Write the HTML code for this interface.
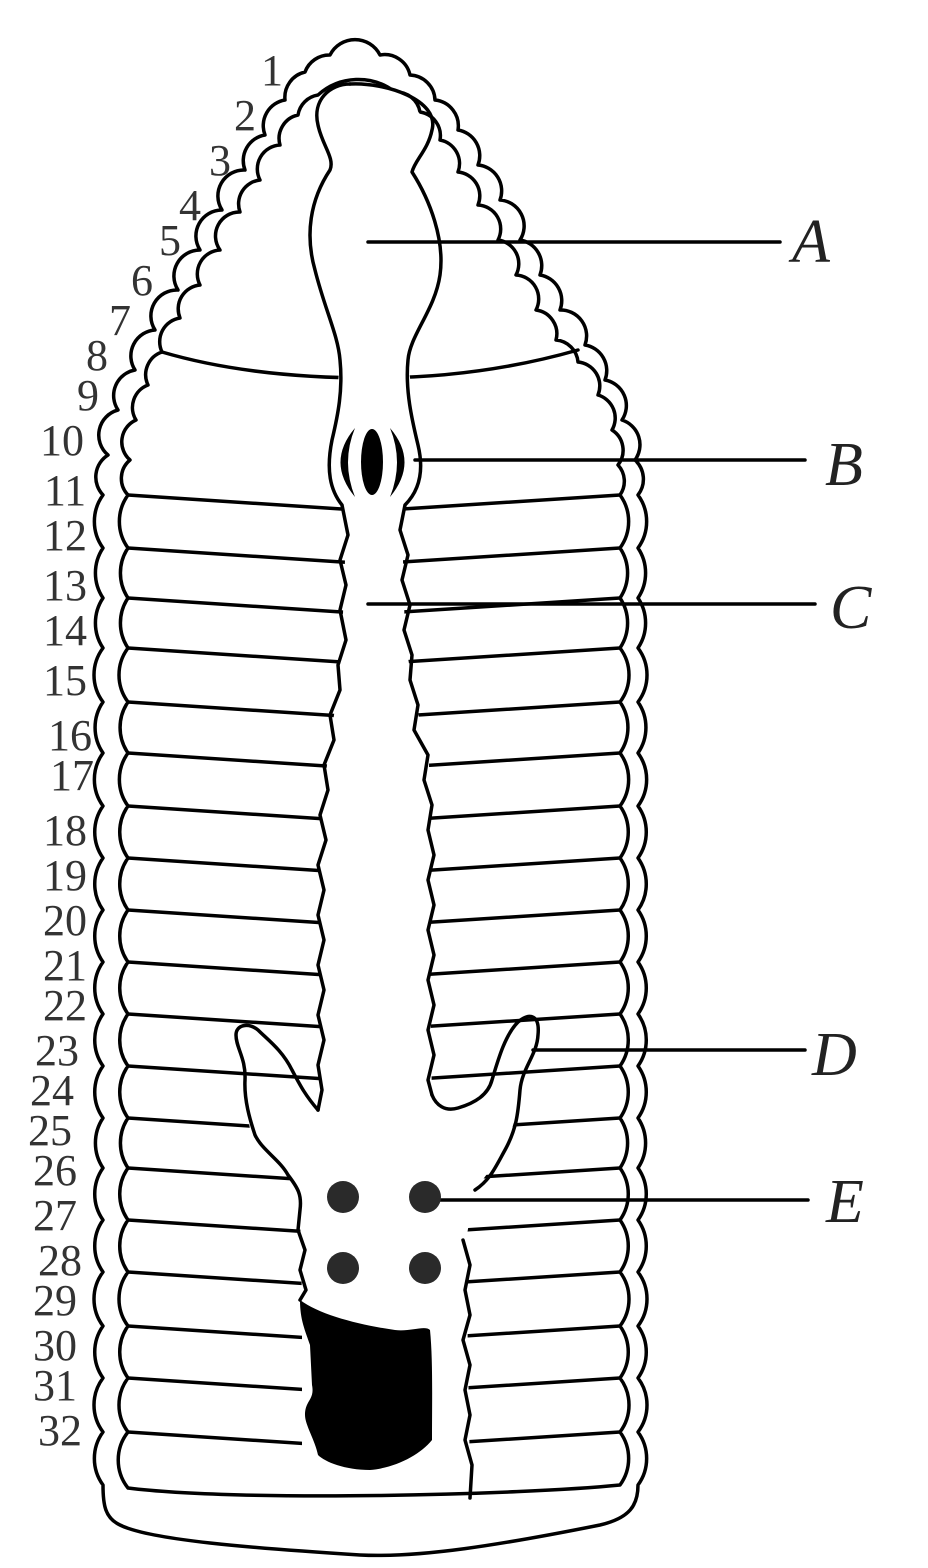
<!DOCTYPE html>
<html><head><meta charset="utf-8"><style>
html,body{margin:0;padding:0;background:#fff;}
svg{display:block;}
.n{font-family:"Liberation Serif",serif;font-size:44px;fill:#333;text-anchor:middle;}
.l{font-family:"Liberation Serif",serif;font-size:62px;font-style:italic;fill:#222;}
</style></head><body>
<svg width="928" height="1568" viewBox="0 0 928 1568" xmlns="http://www.w3.org/2000/svg">
<g fill="none" stroke="#000" stroke-width="3.5" stroke-linejoin="round" stroke-linecap="round">
<path d="M330,55 A28,28 0 0 1 380,55 A26,26 0 0 1 410,75 A26,26 0 0 1 435,100 A26,26 0 0 1 458,130 A26,26 0 0 1 478,165 A26,26 0 0 1 500,200 A26,26 0 0 1 520,240 A26,26 0 0 1 540,275 A26,26 0 0 1 560,310 A26,26 0 0 1 585,345 A26,26 0 0 1 605,380 A26,26 0 0 1 622,420 A26,26 0 0 1 635,460 A26,26 0 0 1 638,495
A45,45 0 0 1 638,548 A45,45 0 0 1 638,598 A45,45 0 0 1 638,648 A45,45 0 0 1 638,702 A45,45 0 0 1 638,753 A45,45 0 0 1 638,806 A45,45 0 0 1 638,858 A45,45 0 0 1 638,910 A45,45 0 0 1 638,962 A45,45 0 0 1 638,1014 A45,45 0 0 1 638,1066 A45,45 0 0 1 638,1118 A45,45 0 0 1 638,1168 A45,45 0 0 1 638,1220 A45,45 0 0 1 638,1272 A45,45 0 0 1 638,1326 A45,45 0 0 1 638,1378 A45,45 0 0 1 638,1432 A45,45 0 0 1 638,1485
C638,1505 630,1518 600,1525 C500,1545 420,1558 360,1555 C250,1548 150,1540 120,1525 C105,1518 103,1505 103,1485
A45,45 0 0 1 103,1432 A45,45 0 0 1 103,1378 A45,45 0 0 1 103,1326 A45,45 0 0 1 103,1272 A45,45 0 0 1 103,1220 A45,45 0 0 1 103,1168 A45,45 0 0 1 103,1118 A45,45 0 0 1 103,1066 A45,45 0 0 1 103,1014 A45,45 0 0 1 103,962 A45,45 0 0 1 103,910 A45,45 0 0 1 103,858 A45,45 0 0 1 103,806 A45,45 0 0 1 103,753 A45,45 0 0 1 103,702 A45,45 0 0 1 103,648 A45,45 0 0 1 103,598 A45,45 0 0 1 103,548 A45,45 0 0 1 103,495
A26,26 0 0 1 108,455 A26,26 0 0 1 118,410 A26,26 0 0 1 135,370 A26,26 0 0 1 155,330 A26,26 0 0 1 178,290 A26,26 0 0 1 200,250 A26,26 0 0 1 222,210 A26,26 0 0 1 245,170 A26,26 0 0 1 265,135 A26,26 0 0 1 285,100 A26,26 0 0 1 305,72 A26,26 0 0 1 330,55 Z"/>
<path d="M318,95 A60,60 0 0 1 395,92 A24,24 0 0 1 420,112 A24,24 0 0 1 440,140 A24,24 0 0 1 458,172 A24,24 0 0 1 478,205 A24,24 0 0 1 498,240 A24,24 0 0 1 516,275 A24,24 0 0 1 536,310 A24,24 0 0 1 556,340 A24,24 0 0 1 578,362 A24,24 0 0 1 598,395 A24,24 0 0 1 612,430 A24,24 0 0 1 618,465 A24,24 0 0 1 620,495
A45,45 0 0 1 620,548 A45,45 0 0 1 620,598 A45,45 0 0 1 620,648 A45,45 0 0 1 620,702 A45,45 0 0 1 620,753 A45,45 0 0 1 620,806 A45,45 0 0 1 620,858 A45,45 0 0 1 620,910 A45,45 0 0 1 620,962 A45,45 0 0 1 620,1014 A45,45 0 0 1 620,1066 A45,45 0 0 1 620,1118 A45,45 0 0 1 620,1168 A45,45 0 0 1 620,1220 A45,45 0 0 1 620,1272 A45,45 0 0 1 620,1326 A45,45 0 0 1 620,1378 A45,45 0 0 1 620,1432 A45,45 0 0 1 620,1485
C520,1495 240,1502 128,1488
A45,45 0 0 1 128,1432 A45,45 0 0 1 128,1378 A45,45 0 0 1 128,1326 A45,45 0 0 1 128,1272 A45,45 0 0 1 128,1220 A45,45 0 0 1 128,1168 A45,45 0 0 1 128,1118 A45,45 0 0 1 128,1066 A45,45 0 0 1 128,1014 A45,45 0 0 1 128,962 A45,45 0 0 1 128,910 A45,45 0 0 1 128,858 A45,45 0 0 1 128,806 A45,45 0 0 1 128,753 A45,45 0 0 1 128,702 A45,45 0 0 1 128,648 A45,45 0 0 1 128,598 A45,45 0 0 1 128,548 A45,45 0 0 1 128,495
A24,24 0 0 1 130,460 A24,24 0 0 1 136,420 A24,24 0 0 1 148,385 A24,24 0 0 1 162,352 A24,24 0 0 1 180,318 A24,24 0 0 1 200,285 A24,24 0 0 1 220,250 A24,24 0 0 1 240,212 A24,24 0 0 1 260,180 A24,24 0 0 1 280,145 A24,24 0 0 1 298,115 A24,24 0 0 1 318,95 Z"/>
<path d="M162,352 Q250,378 372,378 M372,378 Q480,378 578,350
M128,495 Q250,503 372,511 M128,548 Q250,556 372,564 M128,598 Q250,606 372,614 M128,648 Q250,656 372,664 M128,702 Q250,710 372,718 M128,753 Q250,761 372,769 M128,806 Q250,814 372,822 M128,858 Q250,866 372,874 M128,910 Q250,918 372,926 M128,962 Q250,970 372,978 M128,1014 Q250,1022 372,1030 M128,1066 Q250,1074 372,1082 M128,1118 Q250,1126 372,1134 M128,1168 Q250,1176 372,1184 M128,1220 Q250,1228 372,1236 M128,1272 Q250,1280 372,1288 M128,1326 Q250,1334 372,1342 M128,1378 Q250,1386 372,1394 M128,1432 Q250,1440 372,1448
M372,511 Q500,503 620,495 M372,564 Q500,556 620,548 M372,614 Q500,606 620,598 M372,664 Q500,656 620,648 M372,718 Q500,710 620,702 M372,769 Q500,761 620,753 M372,822 Q500,814 620,806 M372,874 Q500,866 620,858 M372,926 Q500,918 620,910 M372,978 Q500,970 620,962 M372,1030 Q500,1022 620,1014 M372,1082 Q500,1074 620,1066 M372,1134 Q500,1126 620,1118 M372,1184 Q500,1176 620,1168 M372,1236 Q500,1228 620,1220 M372,1288 Q500,1280 620,1272 M372,1342 Q500,1334 620,1326 M372,1394 Q500,1386 620,1378 M372,1448 Q500,1440 620,1432"/>
</g>
<polygon fill="#fff" points="350,84 318,100 318,125 330,170 312,220 315,270 338,340 340,360 335,420 330,460 342,505 345,560 342,640 338,690 330,740 324,790 320,840 320,1110 246,1100 250,1130 290,1175 300,1210 302,1300 302,1478 470,1478 466,1240 475,1190 505,1150 518,1110 520,1090 432,1095 431,1055 430,900 429,760 416,705 405,640 403,560 405,505 420,470 417,440 408,360 440,275 412,172 432,130 400,88"/>
<g fill="none" stroke="#000" stroke-width="3.5" stroke-linejoin="round" stroke-linecap="round">
<path d="M350,84 C330,84 312,100 318,125 C322,145 335,158 330,170 C310,200 305,235 315,270 C325,310 338,335 340,360 C343,390 338,415 332,440 C326,470 330,490 342,505 L348,535 L340,560 L346,585 L340,610 L346,640 L338,665 L340,690 L330,715 L334,740 L324,765 L328,790 L320,815 L326,840 L318,865 L324,890 L318,915 L324,940 L318,965 L324,990 L318,1015 L324,1040 L318,1065 L322,1090 L318,1110"/>
<path d="M350,84 C385,82 440,100 432,130 C428,150 415,160 412,172 C430,200 445,240 440,275 C435,310 410,335 408,360 C405,390 412,420 418,445 C424,470 420,490 405,505 L400,530 L408,555 L402,580 L410,605 L404,630 L412,655 L410,680 L418,705 L414,730 L428,755 L424,780 L432,805 L428,830 L434,855 L428,880 L434,905 L428,930 L434,955 L428,980 L434,1005 L428,1030 L434,1055 L428,1080 L432,1095"/>
<path d="M318,1110 C305,1095 300,1085 292,1070 C282,1050 268,1040 258,1030 C248,1022 236,1025 236,1035 C236,1048 246,1058 245,1080 C244,1100 250,1120 255,1135 C262,1150 280,1160 288,1175 C298,1188 302,1195 300,1210 L298,1230 L305,1250 L300,1270 L306,1290 L300,1300"/>
<path d="M432,1095 C436,1105 445,1112 458,1108 C475,1103 488,1095 492,1080 C498,1060 505,1035 518,1022 C530,1012 540,1015 538,1035 C537,1055 522,1068 520,1090 C518,1115 516,1130 505,1150 C495,1168 490,1180 475,1190"/>
<path d="M463,1240 L470,1265 L465,1290 L470,1315 L463,1340 L470,1365 L465,1390 L470,1415 L465,1440 L472,1465 L470,1498"/>
<path d="M368,242 L780,242 M415,460 L805,460 M368,604 L815,604 M533,1050 L805,1050 M425,1200 L808,1200"/>
</g>
<path fill="#000" d="M300,1300 C320,1315 360,1325 395,1330 C410,1332 425,1325 430,1330 C433,1360 432,1400 432,1440 C420,1455 395,1468 370,1470 C345,1470 325,1462 318,1455 C315,1440 305,1425 305,1415 C305,1400 315,1400 312,1385 L310,1345 C305,1330 300,1320 300,1300 Z"/>
<ellipse cx="372" cy="462" rx="11" ry="33" fill="#000"/>
<path fill="#000" d="M355,428 Q326,462 355,497 Q341,462 355,428Z"/>
<path fill="#000" d="M390,428 Q419,462 390,497 Q404,462 390,428Z"/>
<g fill="#2a2a2a"><circle cx="343" cy="1197" r="16"/><circle cx="425" cy="1197" r="16"/><circle cx="343" cy="1268" r="16"/><circle cx="425" cy="1268" r="16"/></g>
<g class="n">
<text x="272" y="85">1</text><text x="245" y="130">2</text><text x="220" y="175">3</text><text x="190" y="220">4</text><text x="170" y="255">5</text><text x="142" y="295">6</text><text x="120" y="335">7</text><text x="97" y="370">8</text><text x="88" y="410">9</text><text x="62" y="455">10</text><text x="65" y="505">11</text><text x="65" y="550">12</text><text x="65" y="600">13</text><text x="65" y="645">14</text><text x="65" y="695">15</text><text x="70" y="750">16</text><text x="72" y="790">17</text><text x="65" y="845">18</text><text x="65" y="890">19</text><text x="65" y="935">20</text><text x="65" y="980">21</text><text x="65" y="1020">22</text><text x="57" y="1065">23</text><text x="52" y="1105">24</text><text x="50" y="1145">25</text><text x="55" y="1185">26</text><text x="55" y="1230">27</text><text x="60" y="1275">28</text><text x="55" y="1315">29</text><text x="55" y="1360">30</text><text x="55" y="1400">31</text><text x="60" y="1445">32</text>
</g>
<g class="l">
<text x="792" y="262">A</text><text x="825" y="485">B</text><text x="830" y="628">C</text><text x="812" y="1075">D</text><text x="826" y="1222">E</text>
</g>
</svg>
</body></html>
